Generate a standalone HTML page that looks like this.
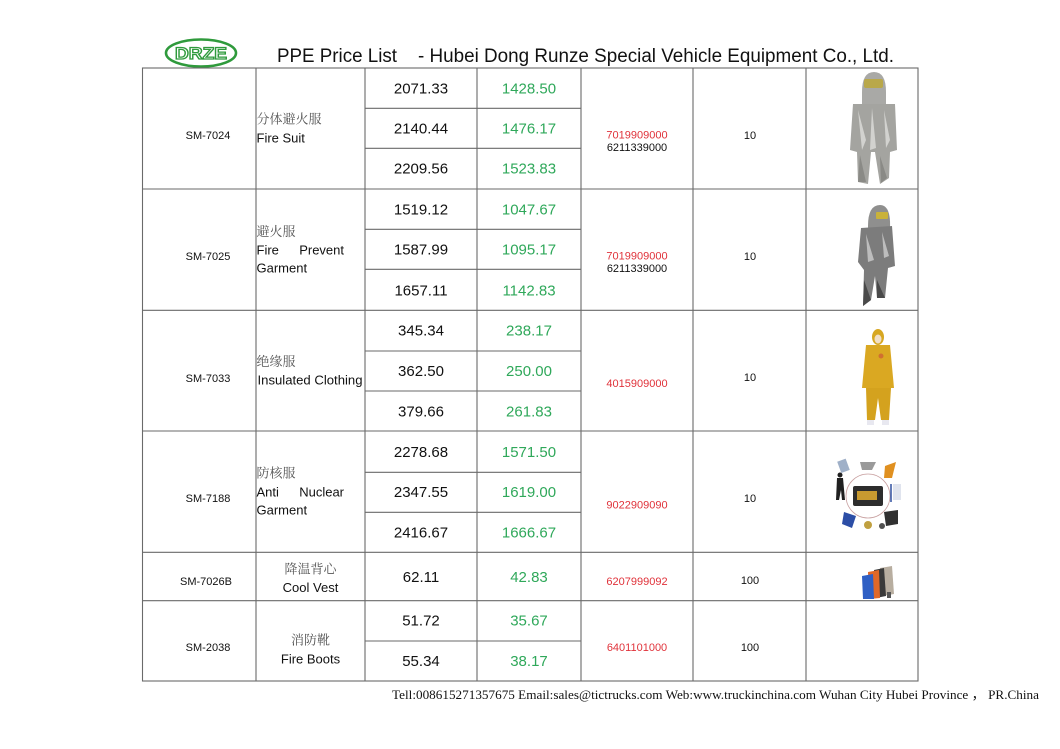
<!DOCTYPE html>
<html>
<head>
<meta charset="utf-8">
<style>
html,body{margin:0;padding:0;background:#fff;}
body{width:1060px;height:749px;overflow:hidden;}
svg{display:block;}
.ar{font-family:"Liberation Sans",Arial,sans-serif;}
.cj{font-family:"Liberation Serif","Noto Serif CJK SC",serif;}
.sf{font-family:"Liberation Serif","Times New Roman",serif;}
</style>
</head>
<body>
<svg width="1060" height="749" viewBox="0 0 1060 749" xmlns="http://www.w3.org/2000/svg">
<rect width="1060" height="749" fill="#fff"/>

<!-- Logo -->
<ellipse cx="201" cy="53" rx="35" ry="13.5" fill="none" stroke="#2f9a3c" stroke-width="2.6"/>
<text x="201" y="59" text-anchor="middle" class="ar" font-size="17" font-weight="bold" fill="#fff" stroke="#2f9a3c" stroke-width="1.3" textLength="52" lengthAdjust="spacingAndGlyphs">DRZE</text>

<!-- Title -->
<text x="277" y="62" class="ar" font-size="19" fill="#111" textLength="120" lengthAdjust="spacingAndGlyphs">PPE Price List</text>
<text x="418" y="62" class="ar" font-size="19" fill="#111" textLength="476" lengthAdjust="spacingAndGlyphs">- Hubei Dong Runze Special Vehicle Equipment Co., Ltd.</text>

<!-- Table lines -->
<g stroke="#6a6a6a" stroke-width="1.1" fill="none">
  <rect x="142.5" y="68" width="775.5" height="613"/>
  <line x1="256" y1="68" x2="256" y2="681"/>
  <line x1="365" y1="68" x2="365" y2="681"/>
  <line x1="477" y1="68" x2="477" y2="681"/>
  <line x1="581" y1="68" x2="581" y2="681"/>
  <line x1="693" y1="68" x2="693" y2="681"/>
  <line x1="806" y1="68" x2="806" y2="681"/>
  <!-- main rows -->
  <line x1="142.5" y1="189" x2="918" y2="189"/>
  <line x1="142.5" y1="310.3" x2="918" y2="310.3"/>
  <line x1="142.5" y1="431" x2="918" y2="431"/>
  <line x1="142.5" y1="552.3" x2="918" y2="552.3"/>
  <line x1="142.5" y1="600.7" x2="918" y2="600.7"/>
  <!-- sub rows -->
  <line x1="365" y1="108.3" x2="581" y2="108.3"/>
  <line x1="365" y1="148.3" x2="581" y2="148.3"/>
  <line x1="365" y1="229.3" x2="581" y2="229.3"/>
  <line x1="365" y1="269.3" x2="581" y2="269.3"/>
  <line x1="365" y1="351" x2="581" y2="351"/>
  <line x1="365" y1="391" x2="581" y2="391"/>
  <line x1="365" y1="472.3" x2="581" y2="472.3"/>
  <line x1="365" y1="512.3" x2="581" y2="512.3"/>
  <line x1="365" y1="641" x2="581" y2="641"/>
</g>

<!-- Model numbers -->
<g class="ar" font-size="11" fill="#111" text-anchor="middle" dominant-baseline="central">
  <text x="208" y="136">SM-7024</text>
  <text x="208" y="257">SM-7025</text>
  <text x="208" y="379">SM-7033</text>
  <text x="208" y="499">SM-7188</text>
  <text x="206" y="582">SM-7026B</text>
  <text x="208" y="648">SM-2038</text>
</g>

<!-- Names -->
<g font-size="13" dominant-baseline="central">
  <text x="256.5" y="119" class="cj" fill="#555">分体避火服</text>
  <text x="256.5" y="138" class="ar" fill="#111">Fire Suit</text>

  <text x="256.5" y="231.5" class="cj" fill="#555">避火服</text>
  <text x="256.5" y="250" class="ar" fill="#111">Fire</text>
  <text x="344" y="250" class="ar" fill="#111" text-anchor="end">Prevent</text>
  <text x="256.5" y="268" class="ar" fill="#111">Garment</text>

  <text x="256.5" y="361.5" class="cj" fill="#555">绝缘服</text>
  <text x="257.5" y="380" class="ar" fill="#111" textLength="105" lengthAdjust="spacingAndGlyphs">Insulated Clothing</text>

  <text x="256.5" y="473" class="cj" fill="#555">防核服</text>
  <text x="256.5" y="492" class="ar" fill="#111">Anti</text>
  <text x="344" y="492" class="ar" fill="#111" text-anchor="end">Nuclear</text>
  <text x="256.5" y="510" class="ar" fill="#111">Garment</text>

  <text x="310.5" y="569" class="cj" fill="#555" text-anchor="middle">降温背心</text>
  <text x="310.5" y="587.5" class="ar" fill="#111" text-anchor="middle">Cool Vest</text>

  <text x="310.5" y="640" class="cj" fill="#555" text-anchor="middle">消防靴</text>
  <text x="310.5" y="659" class="ar" fill="#111" text-anchor="middle">Fire Boots</text>
</g>

<!-- Prices -->
<g class="ar" font-size="15" text-anchor="middle" dominant-baseline="central">
  <g fill="#111">
    <text x="421" y="89">2071.33</text>
    <text x="421" y="129">2140.44</text>
    <text x="421" y="169">2209.56</text>
    <text x="421" y="210">1519.12</text>
    <text x="421" y="250">1587.99</text>
    <text x="421" y="291">1657.11</text>
    <text x="421" y="331">345.34</text>
    <text x="421" y="371.5">362.50</text>
    <text x="421" y="412">379.66</text>
    <text x="421" y="452.5">2278.68</text>
    <text x="421" y="492.5">2347.55</text>
    <text x="421" y="533">2416.67</text>
    <text x="421" y="577.5">62.11</text>
    <text x="421" y="621">51.72</text>
    <text x="421" y="661.5">55.34</text>
  </g>
  <g fill="#2fa85a">
    <text x="529" y="89">1428.50</text>
    <text x="529" y="129">1476.17</text>
    <text x="529" y="169">1523.83</text>
    <text x="529" y="210">1047.67</text>
    <text x="529" y="250">1095.17</text>
    <text x="529" y="291">1142.83</text>
    <text x="529" y="331">238.17</text>
    <text x="529" y="371.5">250.00</text>
    <text x="529" y="412">261.83</text>
    <text x="529" y="452.5">1571.50</text>
    <text x="529" y="492.5">1619.00</text>
    <text x="529" y="533">1666.67</text>
    <text x="529" y="577.5">42.83</text>
    <text x="529" y="621">35.67</text>
    <text x="529" y="661.5">38.17</text>
  </g>
</g>

<!-- HS codes -->
<g class="ar" font-size="11" text-anchor="middle" dominant-baseline="central">
  <text x="637" y="135.5" fill="#e0323a">7019909000</text>
  <text x="637" y="148" fill="#111">6211339000</text>
  <text x="637" y="256.5" fill="#e0323a">7019909000</text>
  <text x="637" y="269" fill="#111">6211339000</text>
  <text x="637" y="384" fill="#e0323a">4015909000</text>
  <text x="637" y="505.5" fill="#e0323a">9022909090</text>
  <text x="637" y="582" fill="#e0323a">6207999092</text>
  <text x="637" y="648" fill="#e0323a">6401101000</text>
</g>

<!-- Qty -->
<g class="ar" font-size="11" fill="#111" text-anchor="middle" dominant-baseline="central">
  <text x="750" y="136">10</text>
  <text x="750" y="257">10</text>
  <text x="750" y="378">10</text>
  <text x="750" y="499">10</text>
  <text x="750" y="581">100</text>
  <text x="750" y="648">100</text>
</g>

<!-- Image 1: silver fire suit -->
<g>
  <path d="M862,92 Q862,72 874,72 Q886,72 886,92 L886,104 L862,104 Z" fill="#a9a9a6"/>
  <rect x="864" y="79" width="19" height="9" rx="2" fill="#b9a84a"/>
  <path d="M853,104 L895,104 L897,150 L890,152 L889,178 L880,184 L875,152 L871,152 L868,184 L858,182 L857,152 L850,150 Z" fill="#a4a4a0"/>
  <path d="M858,110 L866,140 L862,150 Z M884,110 L890,140 L886,148 Z M872,108 L876,148 L870,150 Z" fill="#d2d2cf"/>
  <path d="M860,155 L866,182 L858,182 Z M880,156 L887,178 L881,183 Z" fill="#8a8a86"/>
</g>

<!-- Image 2: darker silver suit -->
<g>
  <path d="M868,226 Q868,205 880,205 Q891,205 890,228 L868,228 Z" fill="#8f8f8e"/>
  <rect x="876" y="212" width="12" height="7" rx="1" fill="#c9b23a"/>
  <path d="M861,228 L892,226 L895,266 L888,268 L885,298 L877,298 L875,276 L871,300 L863,306 L864,270 L858,262 Z" fill="#7c7c7c"/>
  <path d="M866,234 L874,260 L868,262 Z M882,232 L889,256 L884,258 Z" fill="#bdbdbd"/>
  <path d="M864,280 L871,300 L863,306 Z M877,280 L885,298 L877,298 Z" fill="#4a4a4a"/>
</g>

<!-- Image 3: yellow insulated suit -->
<g>
  <ellipse cx="878" cy="337" rx="6" ry="8" fill="#d7a722"/>
  <ellipse cx="878" cy="339" rx="3.5" ry="4.5" fill="#f1dfc8"/>
  <path d="M866,345 L890,345 L894,388 L862,388 Z" fill="#daa822"/>
  <circle cx="881" cy="356" r="2.5" fill="#d07030"/>
  <path d="M866,388 L891,388 L889,420 L881,420 L878,398 L875,420 L867,420 Z" fill="#d4a21e"/>
  <rect x="867" y="420" width="7" height="5" fill="#e8e8f0"/>
  <rect x="882" y="420" width="7" height="5" fill="#e8e8f0"/>
</g>

<!-- Image 4: collage -->
<g>
  <circle cx="868" cy="496" r="22" fill="none" stroke="#c8a0a0" stroke-width="0.8"/>
  <rect x="853" y="486" width="30" height="20" rx="2" fill="#2d2d2d"/>
  <rect x="857" y="491" width="20" height="9" fill="#c89a30"/>
  <rect x="839" y="460" width="9" height="12" fill="#9fb0c8" transform="rotate(-20 843 466)"/>
  <path d="M860,462 L876,462 L872,470 L862,470 Z" fill="#9a9a9a"/>
  <path d="M885,466 L896,462 L892,478 L884,478 Z" fill="#e09020"/>
  <rect x="893" y="484" width="8" height="16" fill="#e0e4ee"/>
  <line x1="891" y1="484" x2="891" y2="502" stroke="#3050a0" stroke-width="1.5"/>
  <path d="M837,478 L843,478 L845,500 L842,500 L841,490 L839,500 L836,500 Z" fill="#202020"/>
  <circle cx="840" cy="475" r="2.5" fill="#202020"/>
  <path d="M884,512 L898,510 L898,524 L886,526 Z" fill="#303030"/>
  <circle cx="868" cy="525" r="4" fill="#c0a040"/>
  <path d="M844,512 L856,516 L852,528 L842,524 Z" fill="#2c4ea6"/>
  <circle cx="882" cy="526" r="3" fill="#505050"/>
</g>

<!-- Image 5: vests -->
<g>
  <path d="M880,568 L892,566 L894,594 L882,596 Z" fill="#b8aea0"/>
  <path d="M874,570 L884,568 L886,596 L876,598 Z" fill="#3a3a3a"/>
  <path d="M868,572 L879,570 L880,598 L869,599 Z" fill="#e06828"/>
  <path d="M862,576 L873,574 L874,599 L863,599 Z" fill="#2f5fc4"/>
  <rect x="887" y="592" width="4" height="6" fill="#555"/>
</g>

<!-- Footer -->
<text x="392" y="699" class="sf" font-size="13" fill="#111" textLength="647" lengthAdjust="spacingAndGlyphs">Tell:008615271357675 Email:sales@tictrucks.com Web:www.truckinchina.com Wuhan City Hubei Province ， PR.China</text>
</svg>
</body>
</html>
